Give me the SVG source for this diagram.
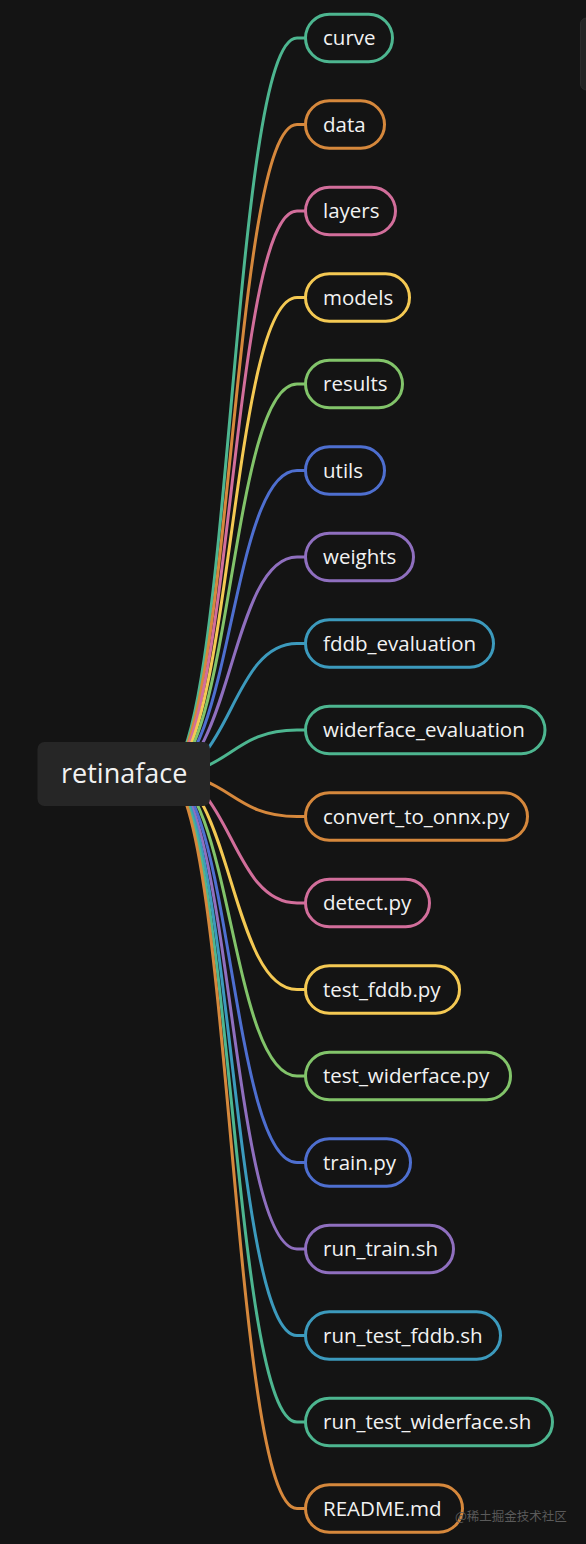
<svg xmlns="http://www.w3.org/2000/svg" width="586" height="1544" viewBox="0 0 586 1544">
<style>
.bg{fill:#141414}
.link{fill:none;stroke-width:3;stroke-linecap:round}
.pill{fill:#141414;stroke-width:3}
.lbl{font-family:"Open Sans","Liberation Sans",sans-serif;font-size:20.5px;fill:#f2f2f2}
.root-box{fill:#262626}
.root-lbl{font-family:"Open Sans","Liberation Sans",sans-serif;font-size:27px;fill:#f2f2f2}
.k0{stroke:#4db690}.k1{stroke:#d6883c}.k2{stroke:#d26e9b}.k3{stroke:#f4c953}
.k4{stroke:#82c46a}.k5{stroke:#4e6fd0}.k6{stroke:#8f6fbf}.k7{stroke:#3c9abd}
</style>
<rect class="bg" x="0" y="0" width="586" height="1544"/>
<rect x="580.5" y="18" width="14" height="72" rx="6" fill="#242424" stroke="#2c2c2c" stroke-width="1"/>
<g id="connectors">
<path class="link k0" d="M165,774 C231,774 231,38 297,38 L305.5,38"/>
<path class="link k1" d="M165,774 C231,774 231,124.5 297,124.5 L305.5,124.5"/>
<path class="link k2" d="M165,774 C231,774 231,211 297,211 L305.5,211"/>
<path class="link k3" d="M165,774 C231,774 231,297.5 297,297.5 L305.5,297.5"/>
<path class="link k4" d="M165,774 C231,774 231,384 297,384 L305.5,384"/>
<path class="link k5" d="M165,774 C231,774 231,470.5 297,470.5 L305.5,470.5"/>
<path class="link k6" d="M165,774 C231,774 231,557 297,557 L305.5,557"/>
<path class="link k7" d="M165,774 C231,774 231,643.5 297,643.5 L305.5,643.5"/>
<path class="link k0" d="M165,774 C231,774 231,730 297,730 L305.5,730"/>
<path class="link k1" d="M165,774 C231,774 231,816.5 297,816.5 L305.5,816.5"/>
<path class="link k2" d="M165,774 C231,774 231,903 297,903 L305.5,903"/>
<path class="link k3" d="M165,774 C231,774 231,989.5 297,989.5 L305.5,989.5"/>
<path class="link k4" d="M165,774 C231,774 231,1076 297,1076 L305.5,1076"/>
<path class="link k5" d="M165,774 C231,774 231,1162.5 297,1162.5 L305.5,1162.5"/>
<path class="link k6" d="M165,774 C231,774 231,1249 297,1249 L305.5,1249"/>
<path class="link k7" d="M165,774 C231,774 231,1335.5 297,1335.5 L305.5,1335.5"/>
<path class="link k0" d="M165,774 C231,774 231,1422 297,1422 L305.5,1422"/>
<path class="link k1" d="M165,774 C231,774 231,1508.5 297,1508.5 L305.5,1508.5"/>
</g>
<g id="root">
<rect class="root-box" x="37.5" y="742" width="172.5" height="64" rx="7"/>
<text class="root-lbl" x="61" y="783">retinaface</text>
</g>
<g id="n-curve"><rect class="pill k0" x="305.5" y="14.25" width="87" height="47.5" rx="23.75"/><text class="lbl" x="323" y="45">curve</text></g>
<g id="n-data"><rect class="pill k1" x="305.5" y="100.75" width="79" height="47.5" rx="23.75"/><text class="lbl" x="323" y="131.5">data</text></g>
<g id="n-layers"><rect class="pill k2" x="305.5" y="187.25" width="90" height="47.5" rx="23.75"/><text class="lbl" x="323" y="218">layers</text></g>
<g id="n-models"><rect class="pill k3" x="305.5" y="273.75" width="104" height="47.5" rx="23.75"/><text class="lbl" x="323" y="304.5">models</text></g>
<g id="n-results"><rect class="pill k4" x="305.5" y="360.25" width="97" height="47.5" rx="23.75"/><text class="lbl" x="323" y="391">results</text></g>
<g id="n-utils"><rect class="pill k5" x="305.5" y="446.75" width="79" height="47.5" rx="23.75"/><text class="lbl" x="323" y="477.5">utils</text></g>
<g id="n-weights"><rect class="pill k6" x="305.5" y="533.25" width="108" height="47.5" rx="23.75"/><text class="lbl" x="323" y="564">weights</text></g>
<g id="n-fddb_evaluation"><rect class="pill k7" x="305.5" y="619.75" width="188" height="47.5" rx="23.75"/><text class="lbl" x="323" y="650.5">fddb_evaluation</text></g>
<g id="n-widerface_evaluation"><rect class="pill k0" x="305.5" y="706.25" width="239.5" height="47.5" rx="23.75"/><text class="lbl" x="323" y="737">widerface_evaluation</text></g>
<g id="n-convert_to_onnx"><rect class="pill k1" x="305.5" y="792.75" width="222" height="47.5" rx="23.75"/><text class="lbl" x="323" y="823.5">convert_to_onnx.py</text></g>
<g id="n-detect"><rect class="pill k2" x="305.5" y="879.25" width="124" height="47.5" rx="23.75"/><text class="lbl" x="323" y="910">detect.py</text></g>
<g id="n-test_fddb"><rect class="pill k3" x="305.5" y="965.75" width="154" height="47.5" rx="23.75"/><text class="lbl" x="323" y="996.5">test_fddb.py</text></g>
<g id="n-test_widerface"><rect class="pill k4" x="305.5" y="1052.25" width="205" height="47.5" rx="23.75"/><text class="lbl" x="323" y="1083">test_widerface.py</text></g>
<g id="n-train"><rect class="pill k5" x="305.5" y="1138.75" width="105" height="47.5" rx="23.75"/><text class="lbl" x="323" y="1169.5">train.py</text></g>
<g id="n-run_train"><rect class="pill k6" x="305.5" y="1225.25" width="148" height="47.5" rx="23.75"/><text class="lbl" x="323" y="1256">run_train.sh</text></g>
<g id="n-run_test_fddb"><rect class="pill k7" x="305.5" y="1311.75" width="195" height="47.5" rx="23.75"/><text class="lbl" x="323" y="1342.5">run_test_fddb.sh</text></g>
<g id="n-run_test_widerface"><rect class="pill k0" x="305.5" y="1398.25" width="247" height="47.5" rx="23.75"/><text class="lbl" x="323" y="1429">run_test_widerface.sh</text></g>
<g id="n-readme"><rect class="pill k1" x="305.5" y="1484.75" width="157" height="47.5" rx="23.75"/><text class="lbl" x="323" y="1515.5">README.md</text></g>
<text x="455" y="1521" font-family="'Noto Sans CJK SC','Noto Sans',sans-serif" font-size="12.5" fill="#5a5a5a">@稀土掘金技术社区</text>
</svg>
